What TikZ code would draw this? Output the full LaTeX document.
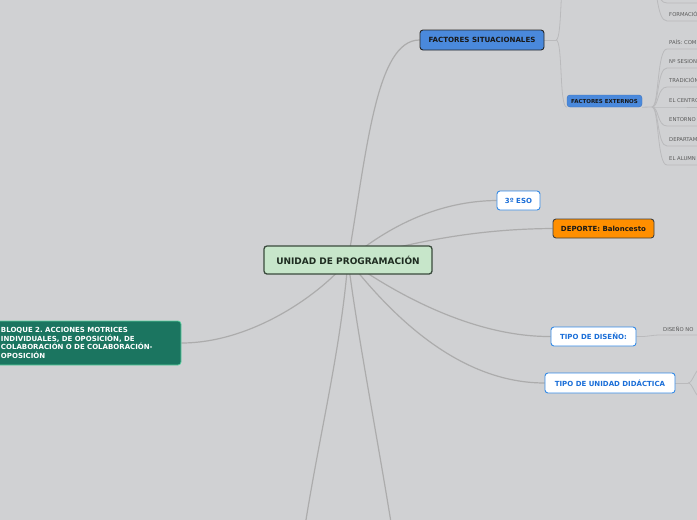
\documentclass[tikz,border=0pt]{standalone}
\usepackage{fontspec}
\setmainfont{DejaVu Sans}
\usetikzlibrary{calc}
\frenchspacing
\definecolor{bgc}{RGB}{208,209,211}
\definecolor{cfill}{RGB}{199,230,202}
\definecolor{cborder}{RGB}{58,74,60}
\definecolor{ctext}{RGB}{30,44,32}
\definecolor{bluef}{RGB}{74,137,220}
\definecolor{blueb}{RGB}{30,90,200}
\definecolor{wtext}{RGB}{26,110,216}
\definecolor{wborder}{RGB}{52,138,230}
\definecolor{orangef}{RGB}{255,143,0}
\definecolor{tealf}{RGB}{27,117,96}
\definecolor{tealb}{RGB}{90,210,160}
\definecolor{edgec}{RGB}{172,172,172}
\definecolor{subc}{RGB}{186,186,188}
\definecolor{itemc}{RGB}{90,90,90}
\pgfdeclarelayer{bglayer}
\pgfdeclarelayer{edgelayer}
\pgfsetlayers{bglayer,edgelayer,main}
\tikzset{
  box/.style={rounded corners=3pt, inner sep=0pt, align=center},
  cbox/.style={box, draw=cborder, line width=1.3pt, fill=cfill, text=ctext,
    minimum width=168, minimum height=28, font=\fontsize{9}{10}\selectfont\bfseries},
  fsbox/.style={box, draw=black!85, line width=0.9pt, fill=bluef, text=black!90,
    minimum width=124, minimum height=20, font=\fontsize{7.1}{8}\selectfont\bfseries},
  febox/.style={box, draw=bluef!85!black, line width=0.4pt, fill=bluef, text=black!90,
    minimum width=75, minimum height=12, font=\fontsize{5.5}{6}\selectfont\bfseries},
  wbox/.style={box, draw=wborder, line width=0.9pt, fill=white, text=wtext,
    font=\fontsize{7}{8}\selectfont\bfseries},
  obox/.style={box, draw=black!75, line width=0.9pt, fill=orangef, text=black!90,
    minimum width=101, minimum height=19, font=\fontsize{7}{8}\selectfont\bfseries},
  gbox/.style={rounded corners=3pt, draw=tealb, line width=0.7pt, fill=tealf, text=white,
    align=left, inner xsep=7pt, inner ysep=0pt, text width=173, minimum height=44,
    font=\fontsize{7}{8.4}\selectfont\bfseries},
  item/.style={anchor=base west, inner sep=0pt, text=itemc, font=\fontsize{5.3}{6}\selectfont},
  edge/.style={draw=edgec, line width=1.2pt},
  subedge/.style={draw=subc, line width=0.8pt}
}
\begin{document}
\begin{tikzpicture}[x=1pt,y=-1pt]
\useasboundingbox (0,0) rectangle (697,520);
\begin{pgfonlayer}{bglayer}
\fill[bgc] (0,0) rectangle (697,520);
\end{pgfonlayer}

% main nodes
\node[cbox] (c) at (348,260) {UNIDAD DE PROGRAMACIÓN};
\node[fsbox] (fs) at (482,40) {FACTORES SITUACIONALES};
\node[febox] (fe) at (604.5,101) {FACTORES EXTERNOS};
\node[wbox, minimum width=43, minimum height=19] (eso) at (518.5,200.5) {3º ESO};
\node[obox] (dep) at (603.5,228.5) {DEPORTE: Baloncesto};
\node[wbox, minimum width=85, minimum height=19] (td) at (593.5,336.5) {TIPO DE DISEÑO:};
\node[wbox, minimum width=130, minimum height=20] (tu) at (610,383) {TIPO DE UNIDAD DIDÁCTICA};
\node[gbox] (bl) at (87.5,343) {BLOQUE 2. ACCIONES MOTRICES\\INDIVIDUALES, DE OPOSICIÓN, DE\\COLABORACIÓN O DE COLABORACIÓN-\\OPOSICIÓN};

% small items
\node[item] (iF) at (669,16.8) {FORMACIÓN};
\node[item] (i1) at (669,44.8) {PAÍS: COM};
\node[item] (i2) at (669,63.8) {Nº SESION};
\node[item] (i3) at (669,82.8) {TRADICIÓN};
\node[item] (i4) at (669,102.8) {EL CENTRO};
\node[item] (i5) at (669,121.8) {ENTORNO};
\node[item] (i6) at (669,141.8) {DEPARTAM};
\node[item] (i7) at (669,160.8) {EL ALUMN};
\node[item] (dn) at (663,331.8) {DISEÑO NO};

% coordinates
\coordinate (fk) at (652,107);
\coordinate (fk2) at (651,-18);
\coordinate (u0) at (667,3);
\coordinate (uF) at (667,21);
\coordinate (u1) at (667,49);
\coordinate (u2) at (667,68);
\coordinate (u3) at (667,87);
\coordinate (u4) at (667,107);
\coordinate (u5) at (667,126);
\coordinate (u6) at (667,146);
\coordinate (u7) at (667,165);
\coordinate (fsk) at (556,40);
\coordinate (fsup) at (568,-40);
\coordinate (dnu) at (661,335);
\coordinate (tk) at (688,383);
\coordinate (tup) at (703,366);
\coordinate (tdn) at (703,400);
\coordinate (bL) at (300,560);
\coordinate (bR) at (397,560);

\begin{pgfonlayer}{edgelayer}
% central connectors
\draw[edge] (c.center) .. controls (367,150) and (376,40) .. (fs.west);
\draw[edge] (c.center) .. controls (390,225) and (440,201) .. (eso.west);
\draw[edge] (c.center) .. controls (420,240) and (480,229) .. (dep.west);
\draw[edge] (c.center) .. controls (390,290) and (470,337) .. (td.west);
\draw[edge] (c.center) .. controls (380,300) and (450,383) .. (tu.west);
\draw[edge] (c.center) .. controls (325,290) and (255,343) .. (bl.east);
\draw[edge] (c.center) .. controls (340,360) and (315,450) .. (bL);
\draw[edge] (c.center) .. controls (358,340) and (380,450) .. (bR);
% factores situacionales fork
\draw[subedge] (fs.east) -- (fsk);
\draw[subedge] (fsk) .. controls (563,40) and (559,-40) .. (fsup);
\draw[subedge] (fsk) .. controls (563,40) and (559,107) .. (fe.south west);
% factores externos fork
\draw[subedge] (fe.south east) -- (fk);
\foreach \u/\y in {u1/49,u2/68,u3/87,u4/107,u5/126,u6/146,u7/165}{
  \draw[subedge] (fk) .. controls (659,107) and (657,\y) .. (\u) -- ++(40,0);
}
\foreach \u/\y in {u0/3,uF/21}{
  \draw[subedge] (fk2) .. controls (658,-18) and (656,\y) .. (\u) -- ++(40,0);
}
% tipo de diseno
\draw[subedge] (td.east) .. controls (648,337) and (650,335) .. (dnu) -- ++(45,0);
% tipo de unidad
\draw[subedge] (tu.east) -- (tk);
\draw[subedge] (tk) .. controls (693,383) and (694,370) .. (tup);
\draw[subedge] (tk) .. controls (693,383) and (694,396) .. (tdn);
\end{pgfonlayer}
\end{tikzpicture}
\end{document}
